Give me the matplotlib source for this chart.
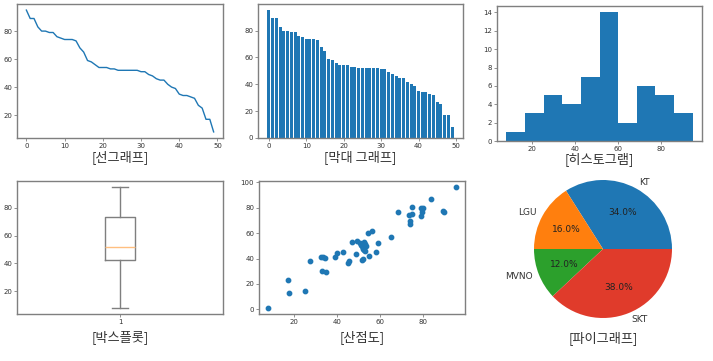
import numpy as np
import matplotlib
matplotlib.use("Agg")
import matplotlib.pyplot as plt

# values sorted in descending order (50 samples)
values = [95, 89, 89, 83, 80, 80, 79, 79, 76, 75,
          74, 74, 74, 73, 68, 65, 59, 58, 56, 54,
          54, 54, 53, 53, 52, 52, 52, 52, 52, 52,
          51, 51, 49, 48, 46, 45, 45, 42, 40, 39,
          35, 34, 34, 33, 32, 27, 25, 17, 17, 8]

scatter_x = [8, 17, 17.5, 25, 27.5, 32.5, 33.5, 34.5, 33, 35,
             39, 40, 42.6, 44.8, 45.4, 46.8, 48.8, 49.3, 50.5, 51,
             51.6, 52.1, 52.6, 53.1, 53.4, 51.3, 51.8, 54.7, 54.2, 56,
             58, 59, 65, 68, 73.3, 73.8, 73.8, 74.9, 74.9, 78.8,
             78.8, 79.7, 79.3, 83.6, 89, 89.5, 95, 52.4, 52.8, 51.9]
scatter_y = [1, 23, 13, 14, 38, 41, 41, 40.5, 30, 29,
             41, 44, 45, 36.5, 38, 53, 43.4, 54, 52.5, 51,
             50, 48.7, 47, 45.8, 50, 38.7, 39.3, 42, 60, 62,
             45, 52, 57, 77, 74.5, 69.4, 67.3, 81, 75, 73.5,
             80, 80, 76.7, 87.2, 77.5, 76.5, 96.4, 53, 51.5, 47.5]

pie_labels = ["KT", "LGU", "MVNO", "SKT"]
pie_sizes = [34, 16, 12, 38]
pie_colors = ["#1f77b4", "#ff7f0e", "#2ca02c", "#e03b2b"]

KFONT = ["Noto Sans CJK KR", "DejaVu Sans"]
SPINE = "#7f7f7f"
W, H = 713, 361


def box(l, t, r, b):
    # pixel box -> figure fraction rect
    return [l / W, 1 - b / H, (r - l) / W, (b - t) / H]


def style(ax, label, pad=3):
    for sp in ax.spines.values():
        sp.set_edgecolor(SPINE)
        sp.set_linewidth(1.0)
    ax.tick_params(labelsize=5, length=2, width=0.6, color=SPINE,
                   pad=1.5, labelcolor="#333333")
    ax.set_xlabel(label, family=KFONT, fontsize=9.5, color="#333333",
                  labelpad=pad)


fig = plt.figure(figsize=(W / 100, H / 100), dpi=100)

idx = np.arange(len(values))

# line plot
ax1 = fig.add_axes(box(17, 4, 223, 138))
ax1.plot(idx, values, color="#1f77b4", lw=1.0)
ax1.set_yticks([20, 40, 60, 80])
style(ax1, "[선그래프]", pad=1)

# bar chart
ax2 = fig.add_axes(box(258, 4, 463, 138))
ax2.bar(idx, values, color="#1f77b4")
ax2.set_yticks([0, 20, 40, 60, 80])
style(ax2, "[막대 그래프]", pad=1)

# histogram
ax3 = fig.add_axes(box(497, 6, 702, 141))
ax3.hist(values, bins=10, color="#1f77b4")
ax3.set_yticks(range(0, 15, 2))
ax3.set_xticks([20, 40, 60, 80])
style(ax3, "[히스토그램]", pad=0.5)

# box plot
ax4 = fig.add_axes(box(17, 181, 223, 314))
ax4.boxplot(values,
            boxprops=dict(color=SPINE, lw=1.0),
            whiskerprops=dict(color=SPINE, lw=1.0),
            capprops=dict(color=SPINE, lw=1.0),
            medianprops=dict(color="#ffbf80", lw=1.0))
ax4.set_yticks([20, 40, 60, 80])
style(ax4, "[박스플롯]", pad=4)

# scatter
ax5 = fig.add_axes(box(259, 181, 465, 314))
ax5.scatter(scatter_x, scatter_y, s=10, color="#1f77b4")
ax5.set_yticks([0, 20, 40, 60, 80, 100])
ax5.set_xticks([20, 40, 60, 80])
style(ax5, "[산점도]", pad=4)

# pie
ax6 = fig.add_axes(box(516.75, 162.75, 689.25, 335.25))
wedges, texts, autotexts = ax6.pie(pie_sizes, labels=pie_labels, colors=pie_colors,
                                   autopct="%.1f%%",
                                   textprops=dict(fontsize=6.5, color="#333333"))
for t in autotexts:
    t.set_color("#222222")
ax6.set_aspect("equal")
ax6.set_xlim(-1.25, 1.25)
ax6.set_ylim(-1.25, 1.25)
ax6.set_xlabel("[파이그래프]", family=KFONT, fontsize=9.5, color="#333333",
               labelpad=-3)

fig.savefig("out.png", dpi=100, facecolor="white")
